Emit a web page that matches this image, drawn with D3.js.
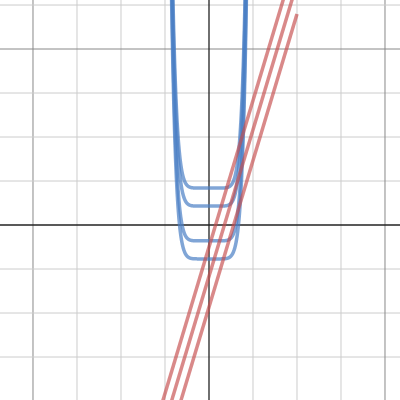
<!DOCTYPE html>
<html><head><meta charset="utf-8">
<script src="https://cdn.jsdelivr.net/npm/d3@7"></script>
<style>body{margin:0;background:#fff}</style></head>
<body><svg id="c" width="400" height="400"></svg>
<script>
const xDomain=[-4.75,4.341];
const yDomain=[-3.977,5.114];
const minorTicks=[-4,-3,-2,-1,1,2,3,4,5];
const majorTicks=[-4,4];
const blueLevels=[0.84,0.43,-0.36,-0.77];
const blueWidth=0.69, bluePower=8.5;
const redSlope=3.33;
const redXIntercepts=[0.15,0.35,0.56];

const svg=d3.select("#c");
const x=d3.scaleLinear().domain(xDomain).range([0,400]);
const y=d3.scaleLinear().domain(yDomain).range([400,0]);
const g=svg.append("g");
minorTicks.forEach(t=>{
  g.append("line").attr("x1",x(t)).attr("x2",x(t)).attr("y1",0).attr("y2",400)
   .attr("stroke",majorTicks.includes(t)?"#888":"#ccc").attr("stroke-width",1);
  g.append("line").attr("y1",y(t)).attr("y2",y(t)).attr("x1",0).attr("x2",400)
   .attr("stroke",majorTicks.includes(t)?"#888":"#ccc").attr("stroke-width",1);
});
g.append("line").attr("x1",x(0)).attr("x2",x(0)).attr("y1",0).attr("y2",400).attr("stroke","#222").attr("stroke-width",1.3);
g.append("line").attr("y1",y(0)).attr("y2",y(0)).attr("x1",0).attr("x2",400).attr("stroke","#222").attr("stroke-width",1.3);

const line=d3.line().x(d=>x(d[0])).y(d=>y(d[1]));
blueLevels.forEach(c=>{
  const pts=d3.range(-0.95,0.9501,0.002).map(v=>[v,c+Math.pow(Math.abs(v)/blueWidth,bluePower)]).filter(p=>p[1]<7);
  svg.append("path").attr("d",line(pts)).attr("fill","none")
    .attr("stroke","#4a7fc4").attr("stroke-opacity",0.7).attr("stroke-width",3.5);
});
redXIntercepts.forEach(b=>{
  const pts=[-2,2].map(v=>[v,redSlope*(v-b)]);
  svg.append("path").attr("d",line(pts)).attr("fill","none")
    .attr("stroke","#c44a4a").attr("stroke-opacity",0.65).attr("stroke-width",3.5);
});
</script></body></html>
